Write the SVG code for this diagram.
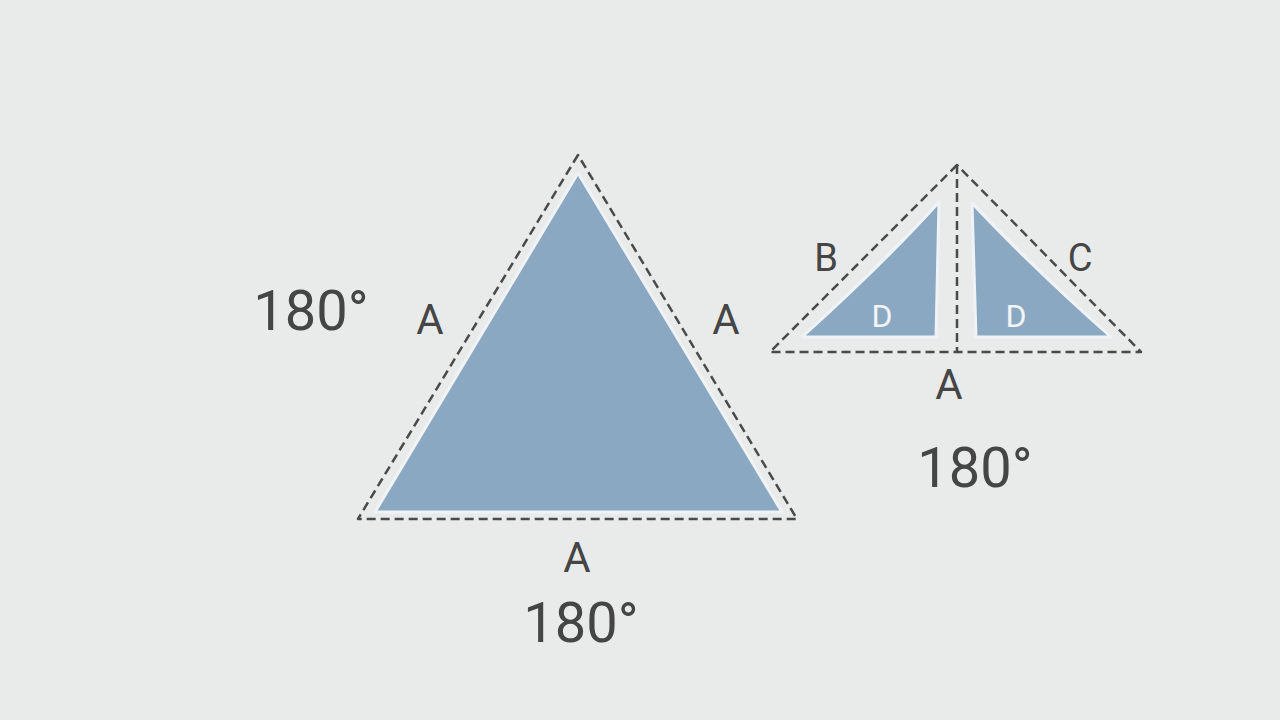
<svg xmlns="http://www.w3.org/2000/svg" width="1280" height="720" viewBox="0 0 1280 720">
<style>
.dash{fill:none;stroke:#4a4a4a;stroke-width:2.5;stroke-dasharray:9 5;stroke-linejoin:round}
.fill{fill:#8aa8c2;stroke:#f0f3f6;stroke-width:3;stroke-linejoin:round}
.t{font-family:Roboto,"Liberation Sans",sans-serif;fill:#454545}
.deg{font-size:56px}
.lbl{font-size:42px}
.d{font-family:Roboto,"Liberation Sans",sans-serif;font-size:32px;fill:#f2f4f6}
</style>
<rect width="1280" height="720" fill="#e9eaea"/>
<g id="big-triangle">
<polygon class="fill" points="578,173 375,512 782,512"/>
<polygon class="dash" points="578,155 358,519 797,519"/>
</g>
<g id="small-triangle">
<path class="fill" d="M802,337 Q885,262 939,202 L936,337 Z"/>
<path class="fill" d="M972,203 L976,337 L1111,337 Q1030,265 972,203 Z"/>
<polygon class="dash" points="957,165 770,352 1141,352"/>
<line class="dash" x1="957" y1="165" x2="957" y2="352"/>
</g>
<g id="labels">
<text class="t deg" x="311" y="330" text-anchor="middle">180°</text>
<text class="t lbl" x="430" y="334" text-anchor="middle">A</text>
<text class="t lbl" x="726" y="334" text-anchor="middle">A</text>
<text class="t lbl" x="577" y="572" text-anchor="middle">A</text>
<text class="t deg" x="581" y="642" text-anchor="middle">180°</text>
<text class="t" x="826" y="271" text-anchor="middle" font-size="38">B</text>
<text class="t" x="1080" y="271" text-anchor="middle" font-size="38">C</text>
<text class="d" x="882" y="327" text-anchor="middle">D</text>
<text class="d" x="1016" y="327" text-anchor="middle">D</text>
<text class="t lbl" x="949" y="399" text-anchor="middle">A</text>
<text class="t deg" x="975" y="487" text-anchor="middle">180°</text>
</g>
</svg>
